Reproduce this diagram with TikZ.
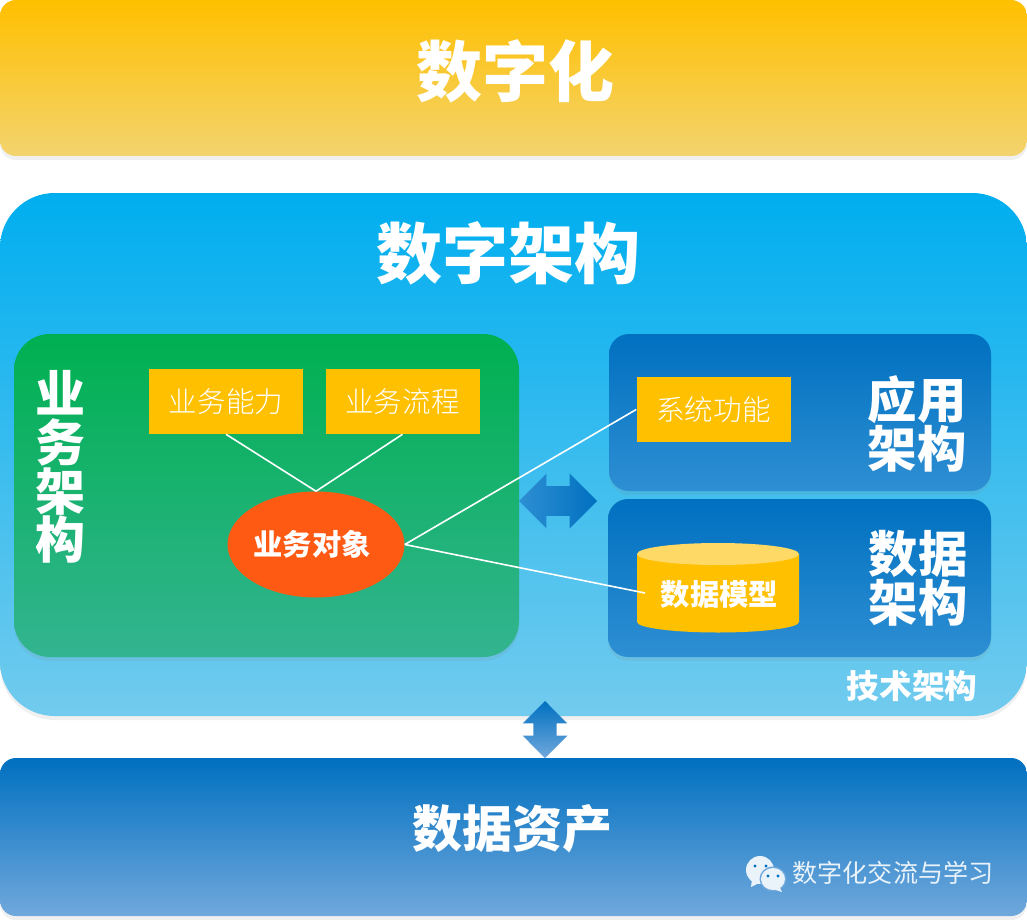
\documentclass[tikz,border=0pt]{standalone}
\usepackage{fontspec}
\setmainfont{Noto Sans CJK SC}
\newfontfamily\thincjk{Noto Sans CJK SC Light}
\usetikzlibrary{shapes.geometric,shapes.arrows,shadows}
\definecolor{bandgold}{HTML}{FFC000}
\definecolor{bandpale}{HTML}{F3D36E}
\definecolor{skytop}{HTML}{00AEEF}
\definecolor{skylow}{HTML}{72CBEE}
\definecolor{greentop}{HTML}{00B050}
\definecolor{greenlow}{HTML}{33B490}
\definecolor{deepblue}{HTML}{0070C0}
\definecolor{midblue}{HTML}{2E8FD3}
\definecolor{lowblue}{HTML}{70A8DC}
\definecolor{objred}{HTML}{FF5A14}
\definecolor{lidgold}{HTML}{FFD966}
\definecolor{chatpale}{HTML}{EAF2FA}
\tikzset{
  panel/.style={rectangle, inner sep=0pt, drop shadow={shadow xshift=0pt, shadow yshift=-3pt, opacity=0.12}},
  yellowbox/.style={rectangle, fill=bandgold, text=white, inner sep=0pt, minimum width=115.5pt, minimum height=48.75pt, font=\thincjk\fontsize{21.4}{24}\selectfont},
  boldtext/.style={text=white, inner sep=0pt, align=center, font=\bfseries\fontsize{#1}{#1}\selectfont},
  link/.style={white, line width=1.2pt},
}
\begin{document}
\begin{tikzpicture}[x=0.75pt, y=-0.75pt]
    \useasboundingbox (0,0) rectangle (1027,920);

    % Three bands
    \node[panel, top color=bandgold, bottom color=bandpale, minimum width=770.25pt, minimum height=117pt, rounded corners=12pt] (topband) at (513.5,78) {};
    \node[panel, top color=skytop, bottom color=skylow, minimum width=770.25pt, minimum height=392.25pt, rounded corners=41pt] (mainband) at (513.5,454.5) {};
    \node[panel, top color=deepblue, bottom color=lowblue, minimum width=770.25pt, minimum height=118.5pt, rounded corners=12pt] (lowband) at (513.5,837) {};

    % Inner panels
    \node[panel, top color=greentop, bottom color=greenlow, minimum width=378.75pt, minimum height=242.25pt, rounded corners=27pt] (yewu) at (266.5,495.5) {};
    \node[panel, top color=deepblue, bottom color=midblue, minimum width=286.5pt, minimum height=117.75pt, rounded corners=15pt] (yingyong) at (800,412.5) {};
    \node[panel, top color=deepblue, bottom color=midblue, minimum width=287.25pt, minimum height=118.5pt, rounded corners=15pt] (shuju) at (799.5,578) {};

    % Titles
    \node[boldtext=49.5] (topname) at (515.5,71) {数字化};
    \node[boldtext=49.5] (mainname) at (508.5,253) {数字架构};
    \node[boldtext=37.5] (lowname) at (512.5,829) {数据资产};
    \node[boldtext=37.5] (yewuname) at (60,467) {业\\[-1pt]务\\[-1pt]架\\[-1pt]构};
    \node[boldtext=37] (yingyongname) at (917,424) {应用\\架构};
    \node[boldtext=37] (shujuname) at (918,578) {数据\\架构};
    \node[boldtext=24.5] (jishuname) at (912,686) {技术架构};

    % Boxes
    \node[yellowbox] (nengli) at (226,401.5) {业务能力};
    \node[yellowbox] (liucheng) at (402.5,401.5) {业务流程};
    \node[yellowbox] (gongneng) at (713.5,409.5) {系统功能};
    \node[ellipse, fill=objred, inner sep=0pt, minimum width=132.75pt, minimum height=79.5pt] (duixiang) at (316,544.5) {};
    \node[boldtext=22] (duixiangname) at (312,544.5) {业务对象};

    % Cylinder
    \fill[bandgold] (637,554) -- (637,622) arc[start angle=180, end angle=0, x radius=81, y radius=10.5] -- (799,554) -- cycle;
    \fill[lidgold] (718,554) ellipse (81 and 11);
    \node[boldtext=22] (moxingname) at (719.5,594) {数据模型};
    \coordinate (moxingend) at (645,593);

    % Links
    \draw[link] (nengli.south) -- (duixiang.north);
    \draw[link] (liucheng.south) -- (duixiang.north);
    \draw[link] (duixiang.east) -- (gongneng.west);
    \draw[link] (duixiang.east) -- (moxingend);

    % Double arrows
    \node[double arrow, left color=midblue, right color=deepblue, inner sep=10.9pt, minimum width=40.5pt, minimum height=58.5pt, double arrow head extend=9.4pt] (sidearrow) at (558,501) {};
    \node[double arrow, shape border rotate=90, top color=deepblue, bottom color=lowblue, inner sep=8.6pt, minimum width=33pt, minimum height=42.75pt, double arrow head extend=7.9pt] (downarrow) at (545,729.5) {};

    % Chat icon
    \fill[chatpale] (760,870) ellipse (14 and 14);
    \fill[chatpale] (752,879) -- (751,887) -- (761,882) -- cycle;
    \fill[lowblue] (773,879) ellipse (13.5 and 12.5);
    \fill[chatpale] (773,879) ellipse (12 and 11);
    \fill[chatpale] (779,886) -- (782,892) -- (773,889) -- cycle;
    \foreach \i/\j in {755/866,766/866,768/876,778/876} \fill[deepblue] (\i,\j) circle (1.6);
    \node[text=chatpale, inner sep=0pt, font=\fontsize{18.8}{20}\selectfont] (weixin) at (893,873) {数字化交流与学习};
\end{tikzpicture}
\end{document}
